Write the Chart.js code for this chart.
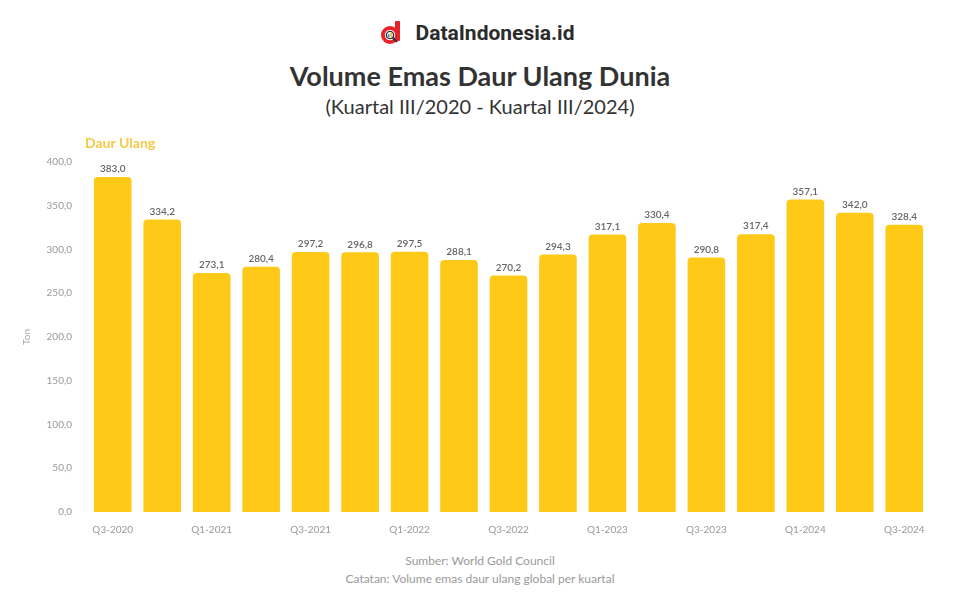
<!DOCTYPE html>
<html>
<head>
<meta charset="utf-8">
<script src="https://cdn.jsdelivr.net/npm/chart.js@4.4.1/dist/chart.umd.min.js"></script>
<style>
  html, body { margin:0; padding:0; background:#fff; }
  body { width:960px; height:600px; position:relative; overflow:hidden; font-family:"Lato","Noto Sans",sans-serif; }
  #brand { position:absolute; top:20px; left:0; width:960px; text-align:center; height:30px; }
  #brand .inner { display:inline-flex; align-items:center; gap:12px; margin-left:-6px; }
  #brand .name { font-family:Roboto,"Noto Sans",sans-serif; font-weight:700; font-size:21px; color:#2b2b2b; }
  #title { position:absolute; top:59px; left:0; width:960px; text-align:center; font-weight:700; font-size:27px; color:#333; }
  #subtitle { position:absolute; top:94px; left:0; width:960px; text-align:center; font-size:20px; color:#333; }
  #wrap { position:absolute; left:0; top:125px; width:960px; height:420px; }
  #foot { position:absolute; top:552px; left:0; width:960px; text-align:center; font-size:12px; color:#9a9a9a; line-height:18px; }
</style>
</head>
<body>
<div id="brand"><div class="inner">
  <svg width="24" height="26" viewBox="0 0 24 26">
    <rect x="15" y="1" width="5" height="20" rx="1" fill="#e8202a"/>
    <circle cx="10" cy="15" r="9" fill="#e8202a"/>
    <circle cx="10" cy="15" r="5.2" fill="#fff"/>
    <circle cx="10" cy="15" r="3.6" fill="none" stroke="#333" stroke-width="1.4"/>
    <rect x="8" y="14" width="1.5" height="3" fill="#2a8fd6"/>
    <rect x="10.3" y="12.5" width="1.5" height="4.5" fill="#f2b01e"/>
    <line x1="12.8" y1="17.8" x2="17" y2="22" stroke="#333" stroke-width="2"/>
  </svg>
  <span class="name">DataIndonesia.id</span>
</div></div>
<div id="title">Volume Emas Daur Ulang Dunia</div>
<div id="subtitle">(Kuartal III/2020 - Kuartal III/2024)</div>
<div id="wrap"><canvas id="c"></canvas></div>
<div id="foot">Sumber: World Gold Council<br>Catatan: Volume emas daur ulang global per kuartal</div>
<script>
const categories = ["Q3-2020","Q4-2020","Q1-2021","Q2-2021","Q3-2021","Q4-2021","Q1-2022","Q2-2022","Q3-2022","Q4-2022","Q1-2023","Q2-2023","Q3-2023","Q4-2023","Q1-2024","Q2-2024","Q3-2024"];
const recycleTon = [383.0, 334.2, 273.1, 280.4, 297.2, 296.8, 297.5, 288.1, 270.2, 294.3, 317.1, 330.4, 290.8, 317.4, 357.1, 342.0, 328.4];
const yTicks = [0, 50, 100, 150, 200, 250, 300, 350, 400];
const seriesName = "Daur Ulang";

const valueLabels = {
  id: 'valueLabels',
  afterDatasetsDraw(chart) {
    const ctx = chart.ctx;
    const meta = chart.getDatasetMeta(0);
    ctx.save();
    ctx.font = '600 10px Lato, "Noto Sans", sans-serif';
    ctx.fillStyle = '#666';
    ctx.textAlign = 'center';
    ctx.textBaseline = 'bottom';
    meta.data.forEach((bar, i) => {
      const v = chart.data.datasets[0].data[i];
      ctx.fillText(v.toFixed(1).replace('.', ','), bar.x, bar.y - 3);
    });
    // legend label, aligned with the plot area
    ctx.font = '700 14px Lato, "Noto Sans", sans-serif';
    ctx.fillStyle = '#F7C948';
    ctx.textAlign = 'left';
    ctx.textBaseline = 'middle';
    ctx.fillText(chart.data.datasets[0].label, chart.chartArea.left - 3, 18);
    ctx.restore();
  }
};

new Chart(document.getElementById('c'), {
  type: 'bar',
  data: {
    labels: categories,
    datasets: [{
      label: seriesName,
      data: recycleTon,
      backgroundColor: '#FFC918',
      borderRadius: 4,
      borderSkipped: 'bottom',
      barPercentage: 0.76,
      categoryPercentage: 1.0
    }]
  },
  options: {
    responsive: true,
    maintainAspectRatio: false,
    animation: false,
    layout: { padding: { left: 21, right: 31, top: 37, bottom: 0 } },
    plugins: {
      legend: { display: false },
      tooltip: { enabled: false }
    },
    scales: {
      x: {
        grid: { display: false },
        border: { display: false },
        ticks: {
          color: '#999',
          font: { family: 'Lato, "Noto Sans", sans-serif', size: 10 },
          maxRotation: 0,
          autoSkip: false,
          callback: function(v, i) { return i % 2 === 0 ? categories[i] : ''; },
          padding: 4
        },
        afterFit(s) { s.height = 33; }
      },
      y: {
        min: 0, max: 400,
        afterBuildTicks(s) { s.ticks = yTicks.map(v => ({ value: v })); },
        grid: { display: false },
        border: { display: false },
        ticks: {
          color: '#999',
          font: { family: 'Lato, "Noto Sans", sans-serif', size: 10 },
          padding: 8,
          callback: v => v.toFixed(1).replace('.', ',')
        },
        title: {
          display: true, text: 'Ton', color: '#aaa',
          font: { family: 'Lato, "Noto Sans", sans-serif', size: 10 },
          padding: { top: 0, bottom: 0 }
        },
        afterFit(s) { s.width = 67; }
      }
    }
  },
  plugins: [valueLabels]
});
</script>
</body>
</html>
